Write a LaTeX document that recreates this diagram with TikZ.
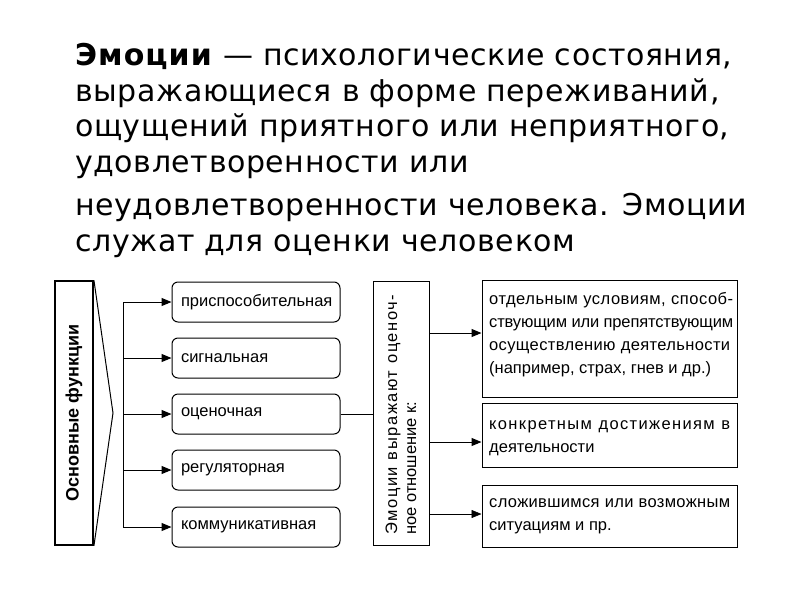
\documentclass[tikz,border=0pt]{standalone}
\usepackage{fontspec}
\setmainfont{Liberation Sans}
\newfontfamily\dejavu[LetterSpace=2.0]{DejaVu Sans}
\usetikzlibrary{arrows.meta}
\tikzset{
  hdr/.style={anchor=base west, inner sep=0pt, font=\dejavu\fontsize{30}{30}\selectfont},
  funcbox/.style={draw, line width=1pt, rounded corners=6pt, minimum width=168pt, minimum height=40pt,
    inner sep=0pt, font=\fontsize{16.5}{16.5}\selectfont, text width=150pt, align=left},
  rbox/.style={draw, line width=1pt, minimum width=255pt, inner sep=0pt},
  rtext/.style={anchor=north west, inner sep=0pt, font=\fontsize{16.5}{23}\selectfont, align=left},
  arr/.style={line width=1pt, -{Triangle[length=10pt,width=8pt]}},
}
% \tline{target width}{letters}{font size}{text}: letter-spaced line of given width
\newcommand{\tline}[4]{%
  \setbox0=\hbox{#4}%
  \pgfmathsetmacro\lsval{((#1)-\the\wd0)/(#2)/(#3)*100}%
  \edef\lstmp{\noexpand\addfontfeature{LetterSpace=\lsval}}%
  \hbox to #1pt{\lstmp #4}}
\begin{document}
\begin{tikzpicture}[x=1pt,y=-1pt]
\useasboundingbox (0,0) rectangle (800,600);
\fill[white] (0,0) rectangle (800,600);
% header
\node[hdr] (h1) at (75,65) {\textbf{\addfontfeature{LetterSpace=3.5}Эмоции} — психологические состояния,};
\node[hdr] (h2) at (75,101) {выражающиеся в форме переживаний,};
\node[hdr] (h3) at (75,136) {ощущений приятного или неприятного,};
\node[hdr] (h4) at (75,172) {удовлетворенности или};
\node[hdr] (h5) at (75,215) {неудовлетворенности человека. Эмоции};
\node[hdr] (h6) at (75,251) {служат для оценки человеком};
% left box
\node[draw, line width=1.8pt, minimum width=38pt, minimum height=264pt, inner sep=0pt] (osn) at (74,413) {};
\node[rotate=90, font=\bfseries\fontsize{18}{18}\selectfont, inner sep=0pt] (osnt) at (osn.center) {Основные функции};
\coordinate (tip) at (113,413);
\draw[line width=1pt] (osn.north east) -- (tip) -- (osn.south east);
% trunk
\coordinate (b1) at (123,302);
\coordinate (b2) at (123,358);
\coordinate (b3) at (123,414);
\coordinate (b4) at (123,470);
\coordinate (b5) at (123,527);
\draw[line width=1pt] (b1) -- (b5);
% function boxes
\node[funcbox] (f1) at (256,302) {приспособительная};
\node[funcbox] (f2) at (256,358) {сигнальная};
\node[funcbox] (f3) at (256,414) {оценочная};
\node[funcbox] (f4) at (256,470) {регуляторная};
\node[funcbox] (f5) at (256,527) {коммуникативная};
\draw[arr] (b1) -- (f1.west);
\draw[arr] (b2) -- (f2.west);
\draw[arr] (b3) -- (f3.west);
\draw[arr] (b4) -- (f4.west);
\draw[arr] (b5) -- (f5.west);
% middle box
\node[draw, line width=1pt, minimum width=56pt, minimum height=264pt, inner sep=0pt] (mid) at (401,413) {};
\node[rotate=90, anchor=west, align=left, inner sep=0pt, font=\fontsize{16.5}{19}\selectfont] (midt) at (401,535)
  {\tline{240}{21}{16.5}{Эмоции выражают оценоч-}\\ное отношение к:};
\draw[line width=1pt] (f3.east) -- (f3.east -| mid.west);
% right boxes
\node[rbox, minimum height=117pt] (r1) at (609.5,338.5) {};
\node[rbox, minimum height=64pt] (r2) at (609.5,435) {};
\node[rbox, minimum height=62pt] (r3) at (609.5,516) {};
\node[rtext] (r1t) at (489,292) {\tline{244}{25}{16.5}{отдельным условиям, способ-}\\\tline{244}{25}{16.5}{ствующим или препятствующим}\\\tline{241}{25}{16.5}{осуществлению деятельности}\\(например, страх, гнев и др.)};
\node[rtext] (r2t) at (489,420) {\tline{241}{22}{16.5}{конкретным достижениям в}\\деятельности};
\node[rtext] (r3t) at (489,498) {\tline{241}{23}{16.5}{сложившимся или возможным}\\ситуациям и пр.};
\coordinate (m1) at (429,333);
\coordinate (m2) at (429,442);
\coordinate (m3) at (429,514);
\draw[arr] (m1) -- (m1 -| r1.west);
\draw[arr] (m2) -- (m2 -| r2.west);
\draw[arr, line width=0.6pt] (m3) -- (m3 -| r3.west);
\end{tikzpicture}
\end{document}
